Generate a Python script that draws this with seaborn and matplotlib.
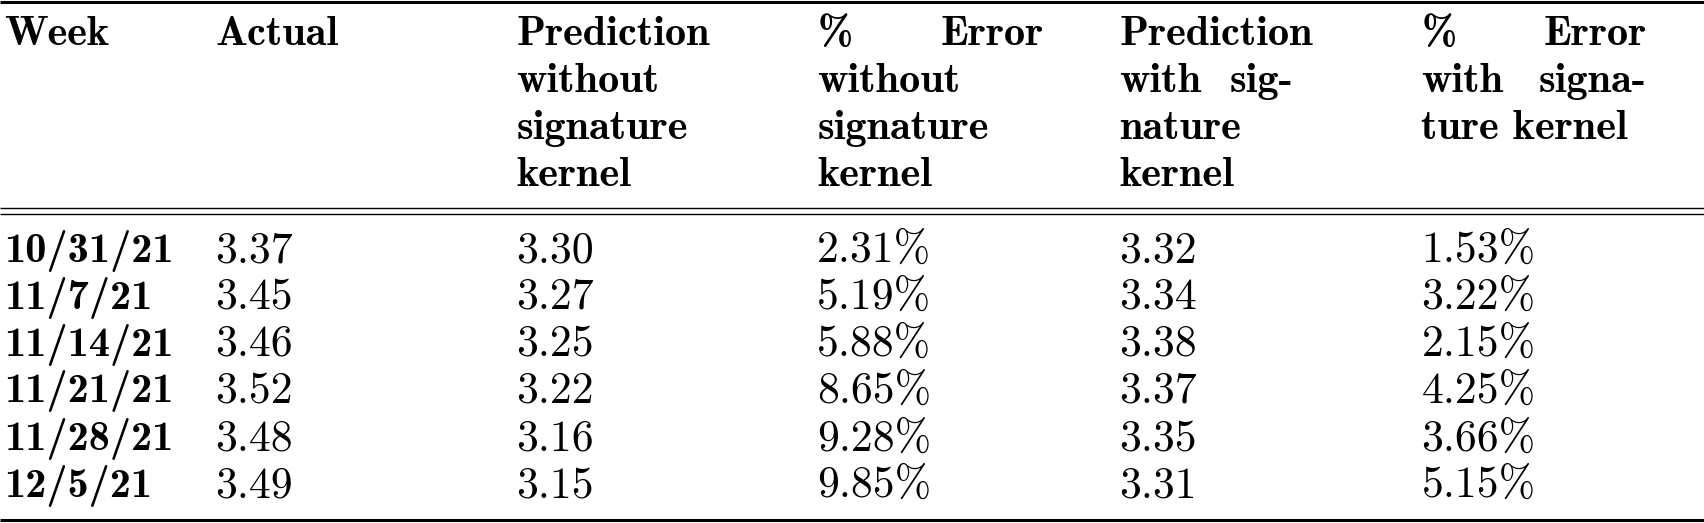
import matplotlib
matplotlib.use("Agg")
import matplotlib.pyplot as plt
import seaborn as sns

weeks = ["10/31/21", "11/7/21", "11/14/21", "11/21/21", "11/28/21", "12/5/21"]
actual = ["3.37", "3.45", "3.46", "3.52", "3.48", "3.49"]
pred_wo = ["3.30", "3.27", "3.25", "3.22", "3.16", "3.15"]
err_wo = ["2.31%", "5.19%", "5.88%", "8.65%", "9.28%", "9.85%"]
pred_w = ["3.32", "3.34", "3.38", "3.37", "3.35", "3.31"]
err_w = ["1.53%", "3.22%", "2.15%", "4.25%", "3.66%", "5.15%"]

sns.set_theme(style="white")
W, H = 1568.0, 481.0
fig = plt.figure(figsize=(17.04, 5.23), dpi=100)
ax = fig.add_axes([0, 0, 1, 1])
ax.set_xlim(0, W); ax.set_ylim(H, 0); ax.axis("off")

reg = dict(family="cmr10", fontsize=31.5, va="center", color="black")
bold = dict(family="cmb10", fontsize=30.5, va="center", color="black")

xs = [4, 198, 475, 752, 1030, 1308]
hy = [32, 75, 118, 161]
ax.text(xs[0], hy[0], "Week", ha="left", **bold)
ax.text(xs[1], hy[0], "Actual", ha="left", **bold)
for i, t in enumerate(["Prediction", "without", "signature", "kernel"]):
    ax.text(xs[2], hy[i], t, ha="left", **bold)
ax.text(xs[3], hy[0], "%", ha="left", **bold)
ax.text(960, hy[0], "Error", ha="right", **bold)
for i, t in enumerate(["without", "signature", "kernel"]):
    ax.text(xs[3], hy[i + 1], t, ha="left", **bold)
ax.text(xs[4], hy[0], "Prediction", ha="left", **bold)
ax.text(xs[4], hy[1], "with", ha="left", **bold)
ax.text(1190, hy[1], "sig-", ha="right", **bold)
ax.text(xs[4], hy[2], "nature", ha="left", **bold)
ax.text(xs[4], hy[3], "kernel", ha="left", **bold)
ax.text(xs[5], hy[0], "%", ha="left", **bold)
ax.text(1515, hy[0], "Error", ha="right", **bold)
ax.text(xs[5], hy[1], "with", ha="left", **bold)
ax.text(1515, hy[1], "signa-", ha="right", **bold)
ax.text(xs[5], hy[2], "ture kernel", ha="left", **bold)

ry = [231, 274, 317, 360, 404, 447]
for i in range(len(weeks)):
    ax.text(xs[0], ry[i], weeks[i], ha="left", **bold)
    for j, col in enumerate([actual, pred_wo, err_wo, pred_w, err_w]):
        ax.text(xs[j + 1], ry[i], col[i], ha="left", **reg)

for y, lw in [(2, 2.2), (191, 1.0), (197, 1.0), (478, 2.2)]:
    ax.plot([0, W], [y, y], color="black", lw=lw, solid_capstyle="butt")

fig.savefig("out.png", dpi=100)
